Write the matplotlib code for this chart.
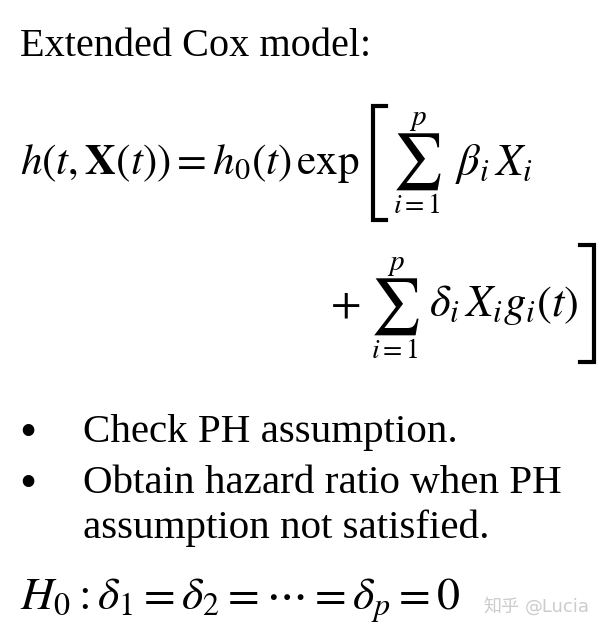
import matplotlib
matplotlib.use("Agg")
import matplotlib.pyplot as plt
from matplotlib.lines import Line2D

plt.rcParams['mathtext.fontset'] = 'stix'
plt.rcParams['font.family'] = ['Liberation Serif', 'DejaVu Serif']

# slide text
title = "Extended Cox model:"
eq_left = r"$h(t,\mathbf{X}(t)) = h_0(t)\,\mathrm{exp}$"
sum_sign = r"$\sum$"
sum_upper = r"$p$"
sum_lower = r"$i=1$"
term1 = r"$\beta_i\, X_i$"
term2 = r"$\delta_i\, X_i g_i(t)$"
plus = r"$+$"
bullets = ["Check PH assumption.", "Obtain hazard ratio when PH\nassumption not satisfied."]
h0_line = r"$H_0:\delta_1=\delta_2=\cdots=\delta_p=0$"
watermark = ["知乎", "@Lucia"]

W, H = 600, 635
fig = plt.figure(figsize=(W / 100, H / 100), dpi=100)
fig.patch.set_facecolor("white")


def px(x, y):
    return x / W, 1 - y / H


def put(x, y, s, size, ha="left", va="baseline", **kw):
    fig.text(*px(x, y), s, fontsize=size, va=va, ha=ha, **kw)


def big_sum(xc, yc):
    # sigma with limits above and below
    put(xc, yc, sum_sign, 40, ha="center", va="center")
    put(xc + 1, yc - 42, sum_upper, 21, ha="center", va="center")
    put(xc, yc + 45, sum_lower, 20, ha="center", va="center")


put(20, 56, title, 29)

# first line of the model
put(20, 174, eq_left, 31)
big_sum(417, 162)
put(455, 175, term1, 32)

# second line
put(330, 316, plus, 32)
big_sum(395, 307)
put(429, 316, term2, 32)

# brackets
lw = 3
fig.add_artist(Line2D([386 / W, 373 / W, 373 / W, 386 / W],
                      [1 - 106 / H, 1 - 106 / H, 1 - 220 / H, 1 - 220 / H],
                      color="black", lw=lw, solid_joinstyle="miter"))
fig.add_artist(Line2D([580 / W, 594 / W, 594 / W, 580 / W],
                      [1 - 245 / H, 1 - 245 / H, 1 - 362 / H, 1 - 362 / H],
                      color="black", lw=lw, solid_joinstyle="miter"))

# bullets
put(19, 446, "\u2022", 35)
put(83, 442, bullets[0], 29.5)
put(19, 497, "\u2022", 35)
put(83, 493, bullets[1].split("\n")[0], 29.5)
put(83, 538, bullets[1].split("\n")[1], 29.5)

put(20, 610, h0_line, 33)

fig.text(*px(483, 612), watermark[0], fontsize=13, color="#cccccc", va="baseline",
         family=["Noto Sans CJK SC", "DejaVu Sans"])
fig.text(*px(525, 612), watermark[1], fontsize=13, color="#cccccc", va="baseline",
         family=["DejaVu Sans"])

fig.savefig("out.png", dpi=100)
